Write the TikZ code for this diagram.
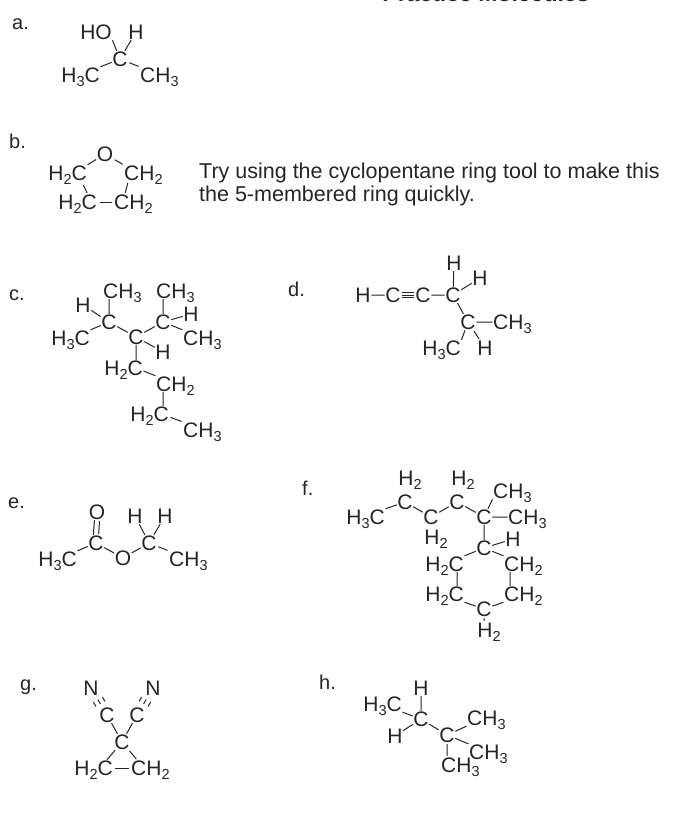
\documentclass[tikz,border=0pt]{standalone}
\usepackage{fontspec}
\setmainfont{Liberation Sans}
\definecolor{ink}{HTML}{262626}
\newcommand\dn[1]{\raisebox{-.2em}{\fontsize{14.5}{15}\selectfont #1}}
\newcommand\At[4]{\node[atom] (#1) at (#2,#3) {#4};}
\newcommand\Ae[4]{\node[atom,anchor=east] (#1) at (#2,#3) {#4};}
\newcommand\Aw[4]{\node[atom,anchor=west] (#1) at (#2,#3) {#4};}
\newcommand\HtC{H\dn{3}C}
\newcommand\CHt{CH\dn{3}}
\newcommand\HdC{H\dn{2}C}
\newcommand\CHd{CH\dn{2}}
\newcommand\Hd{H\dn{2}}
\tikzset{
  atom/.style={font=\fontsize{21}{23}\selectfont,text=ink,inner sep=.5pt,text height=15pt,text depth=0pt},
  bond/.style={draw=ink,line width=1pt,shorten <=1pt,shorten >=1pt},
  tag/.style={font=\fontsize{20}{22}\selectfont,text=ink,inner sep=0pt,anchor=west},
  note/.style={font=\fontsize{21.5}{23}\selectfont,text=ink,inner sep=0pt,anchor=west,text height=15pt,text depth=4pt},
  title/.style={font=\fontsize{23}{25}\selectfont\bfseries,text=ink,inner sep=0pt,anchor=base}
}
\begin{document}
\begin{tikzpicture}[x=1pt,y=-1pt]
\useasboundingbox[fill=white] (0,0) rectangle (686,838);
\node[title] (ttl) at (486,1) {Practice Molecules};
% tags
\node[tag] (ta) at (12,24) {a.};
\node[tag] (tb) at (9,141) {b.};
\node[tag] (tc) at (9,295) {c.};
\node[tag] (td) at (288,289) {d.};
\node[tag] (te) at (8,503) {e.};
\node[tag] (tf) at (302,488) {f.};
\node[tag] (tg) at (20,687) {g.};
\node[tag] (th) at (319,682) {h.};
\node[note] (n1) at (199,173) {Try using the cyclopentane ring tool to make this};
\node[note] (n2) at (199,196) {the 5-membered ring quickly.};
% a
\At{aho}{96}{32}{HO}\At{ah}{136}{32}{H}\At{ac}{120}{59}{C}
\Ae{al}{100.5}{75}{\HtC}\Aw{ar}{139.5}{75}{\CHt}
\draw[bond] (ac)--(aho.south east) (ac)--(ah) (ac)--(al.north east) (ac)--(ar.north west);
% b
\At{bo}{105}{154}{O}\Ae{bl}{87.5}{173}{\HdC}\Aw{br}{123.5}{173}{\CHd}
\Ae{bp}{97.5}{202}{\HdC}\Aw{bq}{113.5}{202}{\CHd}
\draw[bond] (bo)--(bl.north east) (bo)--(br.north west);
\draw[bond] ([shift={(-4.5pt,-3pt)}]bl.south east)--([xshift=-10pt]bp.north east);
\draw[bond] ([shift={(4.5pt,-1pt)}]br.south west)--([xshift=11.5pt]bq.north west);
\draw[bond,shorten <=2pt,shorten >=1.5pt] (bp.east)--(bq.west);
% c
\Aw{c1}{102.5}{291}{\CHt}\Aw{c2}{155.5}{291}{\CHt}\At{c3}{83}{305}{H}
\At{c4}{109}{322}{C}\Ae{c5}{90.5}{338}{\HtC}\At{c6}{136}{337}{C}
\At{c7}{163}{322}{C}\At{c8}{191}{314}{H}\Aw{c9}{182.5}{338}{\CHt}
\At{c10}{163}{352}{H}\Ae{c11}{143.5}{368}{\HdC}\Aw{c12}{155.5}{384}{\CHd}
\Ae{c13}{169.5}{414}{\HdC}\Aw{c14}{182.5}{430}{\CHt}
\draw[bond] (c4)--([xshift=6.5pt]c1.south west) (c4)--(c3) (c4)--(c5.north east) (c4)--(c6) (c6)--(c7)
 (c7)--([xshift=7.5pt]c2.south west) (c7)--(c8) (c7)--(c9.north west) (c6)--(c10)
 (c6)--([xshift=-7.5pt]c11.north east) ([yshift=-3pt]c11.east)--(c12.north west)
 ([xshift=7.5pt]c12.south west)--([xshift=-6.5pt]c13.north east)
 ([yshift=-3pt]c13.east)--(c14.north west);
% d
\At{d1}{454}{263}{H}\At{d2}{480}{278}{H}\At{d3}{363}{295}{H}
\At{d4}{393}{295}{C}\At{d5}{423}{295}{C}\At{d6}{453}{295}{C}
\At{d7}{468}{322}{C}\Aw{d8}{492.5}{322}{\CHt}\Ae{d9}{461.5}{348}{\HtC}\At{d10}{485}{348}{H}
\draw[bond] (d3)--(d4) (d5)--(d6) (d6)--(d1) (d6)--(d2) (d6)--(d7)
 (d7)--(d8.west) (d7)--(d9.north east) (d7)--(d10);
\draw[bond] (d4.east)--(d5.west);
\draw[bond] ([yshift=2.6pt]d4.east)--([yshift=2.6pt]d5.west);
\draw[bond] ([yshift=-2.6pt]d4.east)--([yshift=-2.6pt]d5.west);
% e
\At{e1}{97}{512}{O}\At{e2}{135}{516}{H}\At{e3}{165}{516}{H}
\At{e4}{96}{543}{C}\At{e5}{149}{543}{C}\At{e6}{123}{558}{O}
\Ae{e7}{77.5}{559}{\HtC}\Aw{e8}{168.5}{559}{\CHt}
\draw[bond] ([xshift=-2.6pt]e1.south)--([xshift=-2.6pt]e4.north) ([xshift=2.6pt]e1.south)--([xshift=2.6pt]e4.north);
\draw[bond] (e4)--(e7.north east) (e4)--(e6) (e6)--(e5) (e5)--(e2) (e5)--(e3) (e5)--(e8.north west);
% f
\At{fh1}{410}{478}{\Hd}\At{fh2}{463}{478}{\Hd}
\Ae{f0}{385.5}{517}{\HtC}\At{f1}{405}{502}{C}\At{f2}{431}{517}{C}
\At{fh3}{436}{537}{\Hd}\At{f3}{457}{502}{C}\At{f4}{484}{517}{C}
\Aw{f5}{492.5}{491}{\CHt}\Aw{f6}{507.5}{517}{\CHt}\At{f7}{484}{548}{C}\At{f8}{513}{539}{H}
\Ae{f9}{464.5}{564}{\HdC}\Aw{f10}{503.5}{564}{\CHd}
\Ae{f11}{464.5}{594}{\HdC}\Aw{f12}{503.5}{594}{\CHd}
\At{f13}{484}{609}{C}\At{fh4}{489}{630}{\Hd}
\draw[bond] (f1)--(f0.north east) (f1)--(f2) (f2)--(f3) (f3)--(f4) (f4)--(f5.south west)
 (f4)--(f6.west) (f4)--(f7) (f7)--(f8) (f7)--(f9.north east) (f7)--(f10.north west)
 ([xshift=-7.5pt]f9.south east)--([xshift=-7.5pt]f11.north east)
 ([xshift=6.5pt]f10.south west)--([xshift=6.5pt]f12.north west)
 (f13)--(f11.south east) (f13)--(f12.south west)
 (f13)--([xshift=-5pt]fh4.north);
% g
\At{g1}{91}{688}{N}\At{g2}{153}{688}{N}\At{g3}{107}{715}{C}\At{g4}{137}{715}{C}
\At{g5}{122}{742}{C}\Ae{g6}{113.5}{768}{\HdC}\Aw{g7}{130.5}{768}{\CHd}
\tikzset{cn/.style={bond,shorten <=13.5pt,shorten >=13pt}}
\draw[cn] (g1.center)--(g3.center);
\draw[cn] ([shift={(4.5pt,2.5pt)}]g1.center)--([shift={(4.5pt,2.5pt)}]g3.center);
\draw[cn] ([shift={(-4.5pt,-2.5pt)}]g1.center)--([shift={(-4.5pt,-2.5pt)}]g3.center);
\draw[cn] (g2.center)--(g4.center);
\draw[cn] ([shift={(-4.5pt,2.5pt)}]g2.center)--([shift={(-4.5pt,2.5pt)}]g4.center);
\draw[cn] ([shift={(4.5pt,-2.5pt)}]g2.center)--([shift={(4.5pt,-2.5pt)}]g4.center);
\draw[bond] (g3)--(g5) (g4)--(g5) (g5)--([xshift=-6.5pt]g6.north east) (g5)--([xshift=6.5pt]g7.north west);
\draw[bond,shorten <=1.5pt,shorten >=2pt] (g6.east)--(g7.west);
% h
\At{h1}{421}{688}{H}\Ae{h2}{402.5}{704}{\HtC}\At{h3}{421}{719}{C}\At{h4}{395}{736}{H}
\At{h5}{447}{735}{C}\Aw{h6}{466.5}{718}{\CHt}\Aw{h7}{468.5}{752}{\CHt}\Aw{h8}{440.5}{765}{\CHt}
\draw[bond] (h3)--(h1) (h3)--(h2.south east) (h3)--(h4) (h3)--(h5) (h5)--(h6.south west)
 (h5)--(h7.north west) (h5)--([xshift=6.5pt]h8.north west);
\end{tikzpicture}
\end{document}
